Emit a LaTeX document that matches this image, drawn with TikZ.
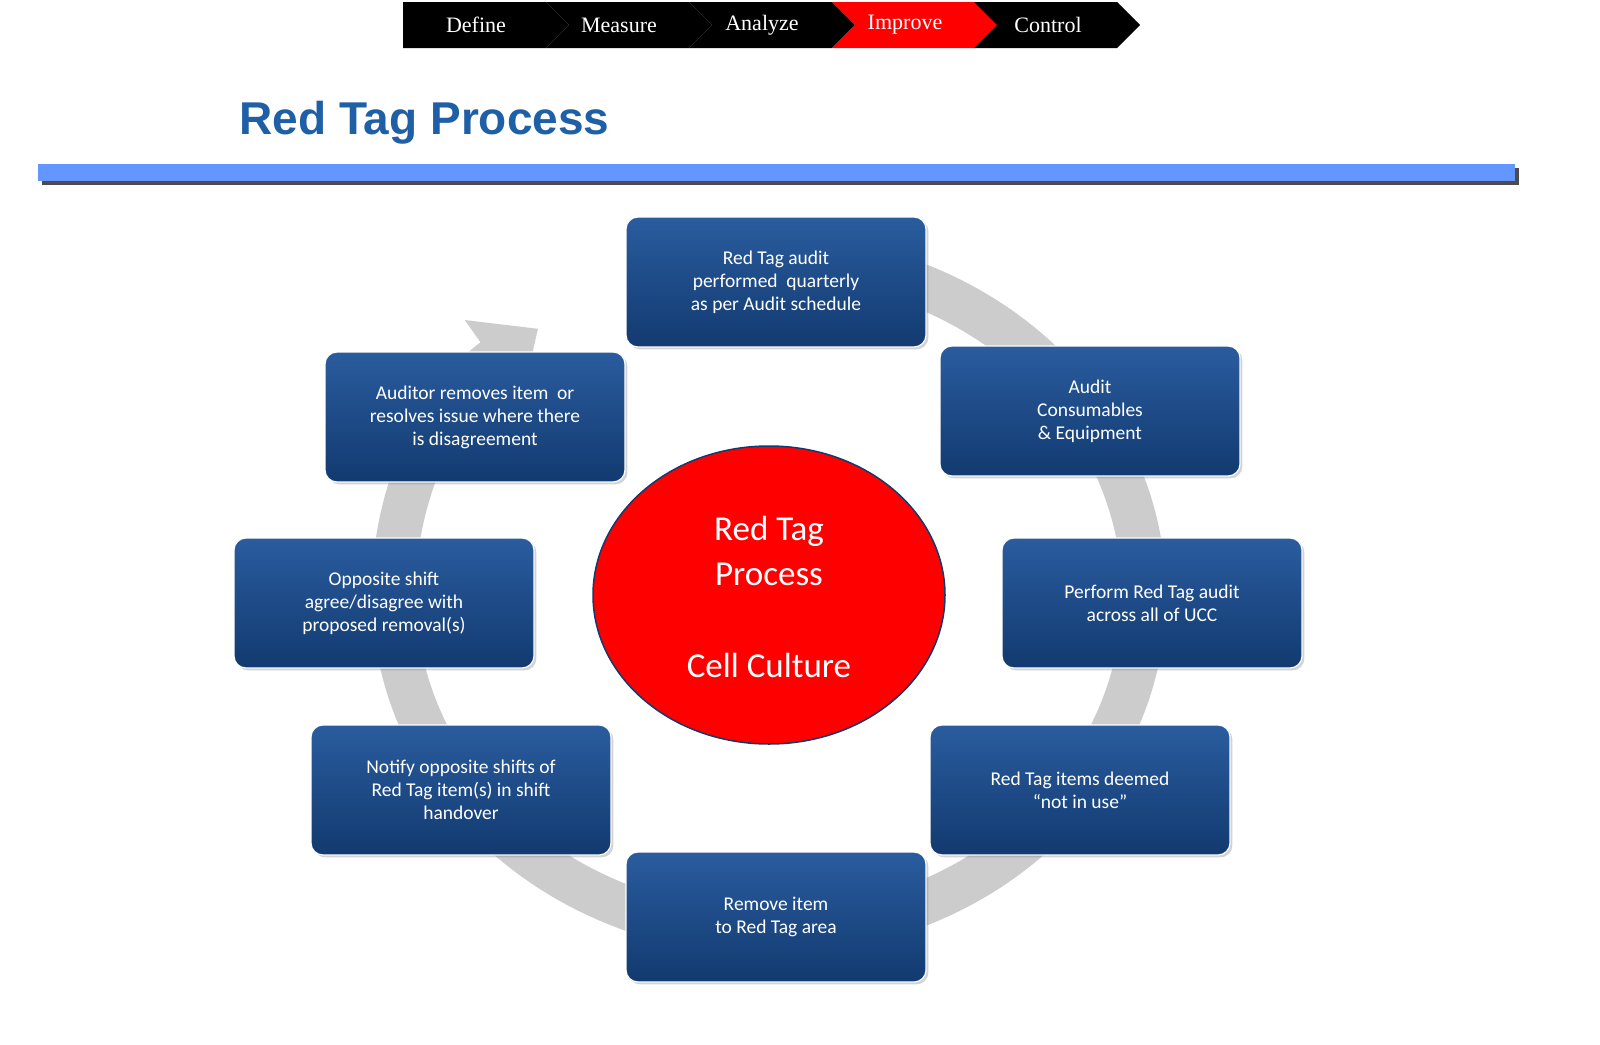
\documentclass[tikz,border=0pt]{standalone}
\usepackage{fontspec}
\setmainfont{Carlito}
\newfontfamily\arialf{Liberation Sans}
\newfontfamily\timesf{Liberation Serif}
\usetikzlibrary{arrows.meta,shadows,shapes.geometric}
\definecolor{boxtop}{HTML}{2A5C9E}
\definecolor{boxbot}{HTML}{123A70}
\definecolor{titleblue}{HTML}{1F5FA6}
\definecolor{barblue}{HTML}{6496FF}
\begin{document}
\begin{tikzpicture}[x=1pt,y=1pt,
  stepbox/.style={rounded corners=12pt,minimum width=300pt,minimum height=130pt,top color=boxtop,bottom color=boxbot,draw=white,line width=1.2pt,text=white,align=center,font=\fontsize{19.5}{23}\selectfont,drop shadow={opacity=0.35}},
  chevtext/.style={text=white,font=\timesf\fontsize{22}{24}\selectfont}]
\useasboundingbox (0,0) rectangle (1600,-1044);
% chevrons
\foreach \x/\c in {403/black,546/black,689/black,832/red,974/black}{
  \fill[\c] (\x,-2) -- (\x+143,-2) -- (\x+166,-25) -- (\x+143,-48) -- (\x,-48) -- (\x+23,-25) -- cycle;
}
\fill[white] (403,-2) -- (426,-25) -- (403,-48) -- cycle;
\fill[black] (403,-2) rectangle (430,-48);
\node[chevtext] (c1) at (476,-25) {Define};
\node[chevtext] (c2) at (619,-25) {Measure};
\node[chevtext] (c3) at (762,-25) {Analyze};
\node[chevtext] (c4) at (905,-25) {Improve};
\node[chevtext] (c5) at (1048,-25) {Control};
% title
\node[anchor=west,text=titleblue,font=\arialf\bfseries\fontsize{46}{50}\selectfont] (title) at (236,-123) {Red Tag Process};
\fill[black!70] (42,-168) rectangle (1519,-185);
\fill[barblue] (38,-164) rectangle (1515,-181);
% ring
\draw[line width=44pt,color=black!20,-{Triangle[width=95pt,length=55pt]}]
  (769,-595) ++(100:375 and 338) arc[start angle=100,end angle=-232,x radius=375,y radius=338];
% center
\node[ellipse,draw=boxbot,line width=1.5pt,fill=red,minimum width=352pt,minimum height=298pt] (ctr) at (769,-595) {};
\node[text=white,align=center,font=\fontsize{35}{45}\selectfont] (ct1) at (769,-551) {Red Tag\\Process};
\node[text=white,font=\fontsize{35}{40}\selectfont] (ct2) at (769,-665) {Cell Culture};
% boxes
\node[stepbox] (b1) at (776,-282) {Red Tag audit\\performed\ \ quarterly\\as per Audit schedule};
\node[stepbox] (b2) at (1090,-411) {Audit\\Consumables\\\& Equipment};
\node[stepbox] (b3) at (1152,-603) {Perform Red Tag audit\\across all of UCC};
\node[stepbox] (b4) at (1080,-790) {Red Tag items deemed\\“not in use”};
\node[stepbox] (b5) at (776,-917) {Remove item\\to Red Tag area};
\node[stepbox] (b6) at (461,-790) {Notify opposite shifts of\\Red Tag item(s) in shift\\handover};
\node[stepbox] (b7) at (384,-603) {Opposite shift\\agree/disagree with\\proposed removal(s)};
\node[stepbox] (b8) at (475,-417) {Auditor removes item\ \ or\\resolves issue where there\\is disagreement};
\end{tikzpicture}
\end{document}
